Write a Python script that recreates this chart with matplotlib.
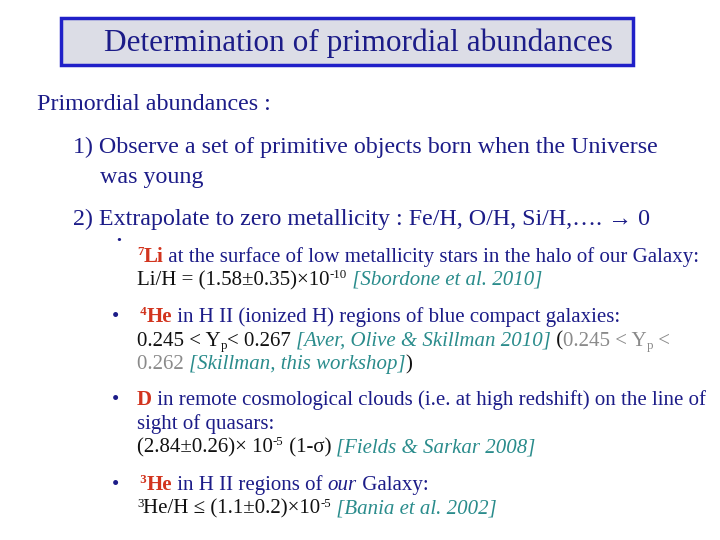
import matplotlib
matplotlib.use("Agg")
import matplotlib.pyplot as plt
from matplotlib.patches import Rectangle

# ── CONFIG ──────────────────────────────────────────────────────────────────
W, H = 720, 540
NAVY = "#1c1c88"
RED = "#d2341e"
TEAL = "#2a8c8c"
GREY = "#8a8a8a"
BLACK = "#111111"
FONT = "Liberation Serif"

TITLE = "Determination of primordial abundances"
HEADER = "Primordial abundances :"
STEP1 = ["1) Observe a set of primitive objects born when the Universe", "was young"]
STEP2 = "2) Extrapolate to zero metallicity : Fe/H, O/H, Si/H,…. \u2192 0"

# each run: (text, color, kind)  kind: n=normal, b=bold, i=italic, sup, sub
LI_LINES = [
    [("7", RED, "supb"), ("Li", RED, "b"), (" at the surface of low metallicity stars in the halo of our Galaxy:", NAVY, "n")],
    [("Li/H = (1.58\u00b10.35)\u00d710", BLACK, "n"), ("-10", BLACK, "sup"), (" [Sbordone et al. 2010]", TEAL, "i")],
]
HE4_LINES = [
    [(" 4", RED, "supb"), ("He", RED, "b"), (" in H II (ionized H) regions of blue compact galaxies:", NAVY, "n")],
    [("0.245 < Y", BLACK, "n"), ("p", BLACK, "sub"), ("< 0.267 ", BLACK, "n"), ("[Aver, Olive & Skillman 2010]", TEAL, "i"),
     (" (", BLACK, "n"), ("0.245 < Y", GREY, "n"), ("p", GREY, "sub"), (" <", GREY, "n")],
    [("0.262 ", GREY, "n"), ("[Skillman, this workshop]", TEAL, "i"), (")", BLACK, "n")],
]
D_LINES = [
    [("D", RED, "b"), (" in remote cosmological clouds (i.e. at high redshift) on the line of", NAVY, "n")],
    [("sight of quasars:", NAVY, "n")],
    [("(2.84\u00b10.26)\u00d7 10", BLACK, "n"), ("-5", BLACK, "sup"), (" (1-\u03c3) ", BLACK, "n"), ("[Fields & Sarkar 2008]", TEAL, "i")],
]
HE3_LINES = [
    [(" 3", RED, "supb"), ("He", RED, "b"), (" in H II regions of ", NAVY, "n"), ("our", NAVY, "i"), (" Galaxy:", NAVY, "n")],
    [("3", BLACK, "sup"), ("He/H \u2264 (1.1\u00b10.2)\u00d710", BLACK, "n"), ("-5", BLACK, "sup"), (" [Bania et al. 2002]", TEAL, "i")],
]

fig = plt.figure(figsize=(7.2, 5.4), dpi=100)
fig.patch.set_facecolor("white")
renderer = fig.canvas.get_renderer()


def put(x, y, s, size=15, color=NAVY, **kw):
    return fig.text(x, H - y, s, transform=None, fontsize=size, color=color,
                    family=FONT, va="baseline", **kw)


def runs(x, y, segs, size=15):
    for s, c, kind in segs:
        sz, dy, kw = size, 0, {}
        if kind.startswith("sup"):
            sz, dy = size * 0.62, -size * 0.45
        elif kind == "sub":
            sz, dy = size * 0.62, size * 0.25
        if kind in ("b", "supb"):
            kw["weight"] = "bold"
        if kind == "i":
            kw["style"] = "italic"
        t = put(x, y + dy, s, sz, c, **kw)
        x += t.get_window_extent(renderer).width


# title box
fig.patches.append(Rectangle((61, H - 65), 572, 47, transform=None, facecolor="#dcdde6",
                             edgecolor="#2020c8", linewidth=2.5))
fig.text(358, H - 51, TITLE, transform=None, fontsize=22.5, color=NAVY, family=FONT,
         ha="center", va="baseline")

put(37, 110, HEADER, 17.3)
put(73, 153, STEP1[0], 17.3)
put(100, 183, STEP1[1], 17.3)
put(73, 225, STEP2, 17.3)

put(115, 246, "\u00b7", 15, NAVY, weight="bold")
for i, line in enumerate(LI_LINES):
    runs(137, 262 + 23 * i, line)

blocks = [(HE4_LINES, 322), (D_LINES, 405), (HE3_LINES, 490)]
for lines, y0 in blocks:
    put(112, y0, "\u2022", 15, NAVY)
    for i, line in enumerate(lines):
        runs(137, y0 + 23.5 * i, line)

fig.savefig("out.png", dpi=100)
